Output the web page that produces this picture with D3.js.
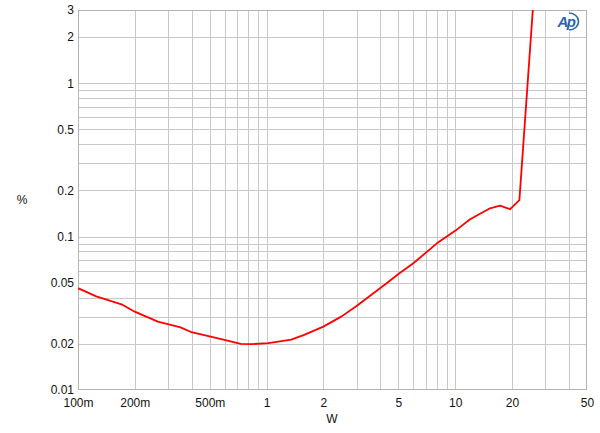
<!DOCTYPE html>
<html>
<head>
<meta charset="utf-8">
<script src="https://cdn.jsdelivr.net/npm/d3@7"></script>
<style>
  html, body { margin: 0; padding: 0; background: #fff; }
  svg { display: block; }
  text { font-family: "Liberation Sans", Arial, sans-serif; fill: #111; }
</style>
</head>
<body>
<svg id="chart" width="600" height="433"></svg>
<script>
const powerW = [0.1, 0.125, 0.17, 0.2, 0.265, 0.35, 0.4, 0.575, 0.73, 0.83, 1.02, 1.13, 1.35, 1.57, 2.0, 2.5, 3.0, 4.33, 5.0, 6.0, 8.0, 10.0, 12.0, 15.3, 17.3, 19.5, 21.9, 25.8];
const thdPct = [0.0461, 0.0408, 0.0362, 0.0324, 0.0279, 0.0256, 0.0238, 0.0215, 0.0200, 0.0199, 0.0202, 0.0206, 0.0213, 0.0228, 0.0259, 0.0302, 0.0353, 0.0496, 0.057, 0.067, 0.0904, 0.109, 0.1297, 0.153, 0.159, 0.1507, 0.173, 3.0];
const xTickVals = [0.1, 0.2, 0.5, 1, 2, 5, 10, 20, 50];
const xTickLabels = ["100m", "200m", "500m", "1", "2", "5", "10", "20", "50"];
const yTickVals = [0.01, 0.02, 0.05, 0.1, 0.2, 0.5, 1, 2, 3];
const yTickLabels = ["0.01", "0.02", "0.05", "0.1", "0.2", "0.5", "1", "2", "3"];
const xTitle = "W";
const yTitle = "%";

const svg = d3.select("#chart");
const L = 78, R = 587, T = 10, B = 390;
const x = d3.scaleLog().domain([0.1, 50]).range([L, R]);
const y = d3.scaleLog().domain([0.01, 3]).range([B, T]);

const xGrid = [];
for (let d = 0.1; d < 50; d *= 10) for (let k = 1; k <= 9; k++) { const v = +(d * k).toPrecision(3); if (v > 0.1 && v < 50) xGrid.push(v); }
const yGrid = [];
for (let d = 0.01; d < 3; d *= 10) for (let k = 1; k <= 9; k++) { const v = +(d * k).toPrecision(3); if (v > 0.01 && v < 3) yGrid.push(v); }

const g = svg.append("g");
g.selectAll("line.vx").data(xGrid).enter().append("line")
  .attr("x1", d => Math.round(x(d)) + 0.5).attr("x2", d => Math.round(x(d)) + 0.5)
  .attr("y1", T).attr("y2", B).attr("stroke", "#c8c8c8").attr("stroke-width", 1);
g.selectAll("line.hy").data(yGrid).enter().append("line")
  .attr("y1", d => Math.round(y(d)) + 0.5).attr("y2", d => Math.round(y(d)) + 0.5)
  .attr("x1", L).attr("x2", R).attr("stroke", "#c8c8c8").attr("stroke-width", 1);

svg.append("rect").attr("x", L + 0.5).attr("y", T + 0.5).attr("width", R - L - 1).attr("height", B - T - 1)
  .attr("fill", "none").attr("stroke", "#b4b4b4").attr("stroke-width", 1);

const logo = svg.append("g").attr("transform", "translate(567,22)");
logo.append("rect").attr("x", -12).attr("y", -10).attr("width", 28).attr("height", 20).attr("fill", "#fff");
logo.append("text").attr("x", -1).attr("y", 5).attr("text-anchor", "middle")
  .style("font-size", "15px").style("font-style", "italic").style("font-weight", "bold")
  .style("fill", "#2a64b0").style("letter-spacing", "-1.5px").text("Ap");
logo.append("path").attr("d", "M2,-9 A 9 8 0 0 1 2,8").attr("fill", "none").attr("stroke", "#2a64b0").attr("stroke-width", 1.6);

svg.append("defs").append("clipPath").attr("id", "clip").append("rect")
  .attr("x", L).attr("y", T).attr("width", R - L).attr("height", B - T);
const pts = powerW.map((w, i) => [w, thdPct[i]]);
svg.append("path").datum(pts)
  .attr("clip-path", "url(#clip)")
  .attr("d", d3.line().x(d => x(d[0])).y(d => y(d[1])).curve(d3.curveLinear))
  .attr("fill", "none").attr("stroke", "#ff0000").attr("stroke-width", 1.8).attr("stroke-linejoin", "round");

const xAxis = d3.axisBottom(x).tickValues(xTickVals).tickFormat((d, i) => xTickLabels[i]).tickSize(0).tickPadding(8);
const xa = svg.append("g").attr("transform", `translate(0,${B})`).call(xAxis);
xa.select(".domain").remove();
xa.selectAll("text").style("font-size", "12px").style("font-family", "Liberation Sans, Arial, sans-serif").attr("fill", "#111");

const yAxis = d3.axisLeft(y).tickValues(yTickVals).tickFormat((d, i) => yTickLabels[i]).tickSize(0).tickPadding(4);
const ya = svg.append("g").attr("transform", `translate(${L},0)`).call(yAxis);
ya.select(".domain").remove();
ya.selectAll("text").style("font-size", "12px").style("font-family", "Liberation Sans, Arial, sans-serif").attr("fill", "#111");

svg.append("text").attr("x", 332).attr("y", 423).attr("text-anchor", "middle").style("font-size", "12px").text(xTitle);
svg.append("text").attr("x", 22).attr("y", 204).attr("text-anchor", "middle").style("font-size", "12px").text(yTitle);
</script>
</body>
</html>
